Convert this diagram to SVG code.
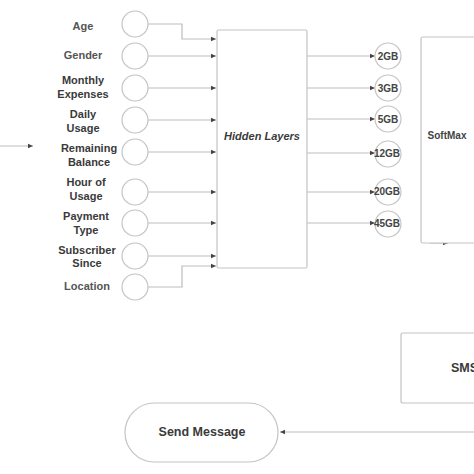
<svg xmlns="http://www.w3.org/2000/svg" width="474" height="474" viewBox="0 0 474 474">
<defs>
<marker id="ah" markerWidth="6" markerHeight="6" refX="5" refY="3" orient="auto" markerUnits="userSpaceOnUse">
<path d="M0,0.8 L5,3 L0,5.2 Z" fill="#444"/>
</marker>
<style>
.box{fill:#fff;stroke:#c4c4c4;stroke-width:1.2}
.ln{fill:none;stroke:#bdbdbd;stroke-width:1.2}
.lbl{font-family:"Liberation Sans",Arial,sans-serif;font-weight:bold;font-size:11px;fill:#3a3a3a;text-anchor:middle}
.lt{fill:#555}
.out{font-family:"Liberation Sans",Arial,sans-serif;font-weight:bold;font-size:10px;fill:#444;text-anchor:middle}
</style>
</defs>
<rect width="474" height="474" fill="#fff"/>
<g id="connectors">
<path class="ln" d="M0,146 H33" marker-end="url(#ah)"/>
<path class="ln" d="M148,24 H182 V39 H216" marker-end="url(#ah)"/>
<path class="ln" d="M148,56 H216" marker-end="url(#ah)"/>
<path class="ln" d="M148,88 H216" marker-end="url(#ah)"/>
<path class="ln" d="M148,120 H216" marker-end="url(#ah)"/>
<path class="ln" d="M148,152 H216" marker-end="url(#ah)"/>
<path class="ln" d="M148,192 H216" marker-end="url(#ah)"/>
<path class="ln" d="M148,223 H216" marker-end="url(#ah)"/>
<path class="ln" d="M148,256 H216" marker-end="url(#ah)"/>
<path class="ln" d="M148,287 H182 V266 H216" marker-end="url(#ah)"/>
<path class="ln" d="M307,56 H375" marker-end="url(#ah)"/>
<path class="ln" d="M307,88 H375" marker-end="url(#ah)"/>
<path class="ln" d="M307,119 H375" marker-end="url(#ah)"/>
<path class="ln" d="M307,153 H375" marker-end="url(#ah)"/>
<path class="ln" d="M307,192 H375" marker-end="url(#ah)"/>
<path class="ln" d="M307,223 H375" marker-end="url(#ah)"/>
<path class="ln" d="M474,432 H280" marker-end="url(#ah)"/>
<path class="ln" d="M430,243 H448" marker-end="url(#ah)"/>
</g>
<g id="in-age"><circle class="box" cx="135" cy="24" r="13"/><text class="lbl lt" x="83" y="30">Age</text></g>
<g id="in-gender"><circle class="box" cx="135" cy="56" r="13"/><text class="lbl lt" x="83" y="59">Gender</text></g>
<g id="in-monthly"><circle class="box" cx="135" cy="88" r="13"/><text class="lbl" x="83" y="84">Monthly</text><text class="lbl" x="83" y="98">Expenses</text></g>
<g id="in-daily"><circle class="box" cx="135" cy="120" r="13"/><text class="lbl" x="83" y="118">Daily</text><text class="lbl" x="83" y="132">Usage</text></g>
<g id="in-remaining"><circle class="box" cx="135" cy="152" r="13"/><text class="lbl" x="89" y="152">Remaining</text><text class="lbl" x="89" y="166">Balance</text></g>
<g id="in-hour"><circle class="box" cx="135" cy="192" r="13"/><text class="lbl" x="86" y="186">Hour of</text><text class="lbl" x="86" y="200">Usage</text></g>
<g id="in-payment"><circle class="box" cx="135" cy="223" r="13"/><text class="lbl" x="86" y="220">Payment</text><text class="lbl" x="86" y="234">Type</text></g>
<g id="in-subscriber"><circle class="box" cx="135" cy="256" r="13"/><text class="lbl" x="87" y="254">Subscriber</text><text class="lbl" x="87" y="267">Since</text></g>
<g id="in-location"><circle class="box" cx="135" cy="287" r="13"/><text class="lbl lt" x="87" y="290">Location</text></g>
<g id="hidden"><rect class="box" x="217" y="30" width="90" height="238" rx="1.5"/><text x="262" y="140" font-family="Liberation Sans,Arial,sans-serif" font-weight="bold" font-style="italic" font-size="11" fill="#3a3a3a" text-anchor="middle">Hidden Layers</text></g>
<g id="o2"><circle class="box" cx="388" cy="56" r="13"/><text class="out" x="388" y="60">2GB</text></g>
<g id="o3"><circle class="box" cx="388" cy="88" r="13"/><text class="out" x="388" y="92">3GB</text></g>
<g id="o5"><circle class="box" cx="388" cy="119" r="13"/><text class="out" x="388" y="123">5GB</text></g>
<g id="o12"><circle class="box" cx="388" cy="154" r="13"/><text class="out" x="387" y="157">12GB</text></g>
<g id="o20"><circle class="box" cx="388" cy="192" r="13"/><text class="out" x="387" y="195">20GB</text></g>
<g id="o45"><circle class="box" cx="388" cy="224" r="13"/><text class="out" x="387" y="227">45GB</text></g>
<g id="softmax"><rect class="box" x="421" y="37" width="70" height="206" rx="1.5"/><text class="out" x="447" y="139">SoftMax</text></g>
<g id="sms"><rect class="box" x="401" y="333" width="90" height="70" rx="2"/><text x="451" y="372" font-family="Liberation Sans,Arial,sans-serif" font-weight="bold" font-size="12.5" fill="#3a3a3a">SMS</text></g>
<g id="send"><rect class="box" x="125" y="403" width="153" height="59" rx="29.5"/><text x="202" y="436" font-family="Liberation Sans,Arial,sans-serif" font-weight="bold" font-size="12.5" fill="#3a3a3a" text-anchor="middle">Send Message</text></g>
</svg>
